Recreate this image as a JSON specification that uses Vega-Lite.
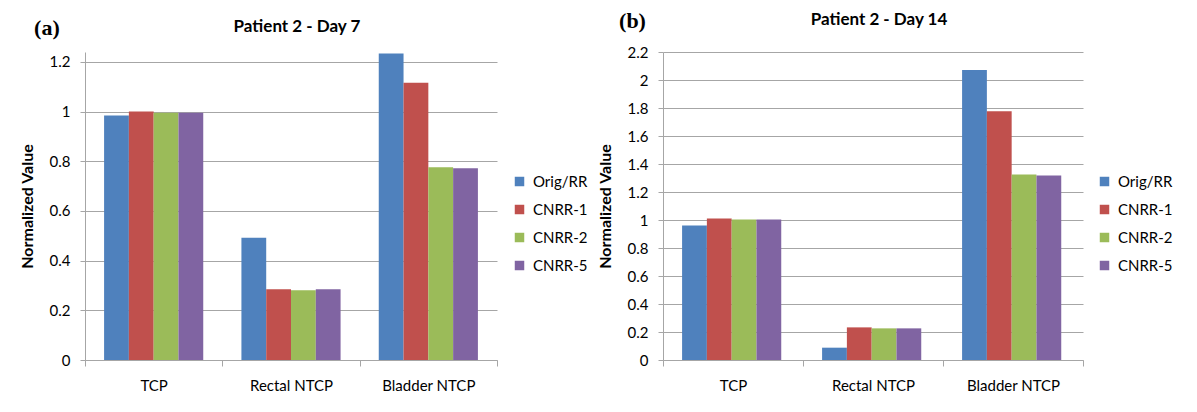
{
  "$schema": "https://vega.github.io/schema/vega-lite/v6.json",
  "padding": {"left": 19, "top": 10, "right": 5, "bottom": 5},
  "background": "white",
  "datasets": {
    "day7": [
      {"metric": "TCP", "method": "Orig/RR", "value": 0.984},
      {"metric": "TCP", "method": "CNRR-1", "value": 1.0},
      {"metric": "TCP", "method": "CNRR-2", "value": 0.995},
      {"metric": "TCP", "method": "CNRR-5", "value": 0.995},
      {"metric": "Rectal NTCP", "method": "Orig/RR", "value": 0.492},
      {"metric": "Rectal NTCP", "method": "CNRR-1", "value": 0.285},
      {"metric": "Rectal NTCP", "method": "CNRR-2", "value": 0.281},
      {"metric": "Rectal NTCP", "method": "CNRR-5", "value": 0.285},
      {"metric": "Bladder NTCP", "method": "Orig/RR", "value": 1.234},
      {"metric": "Bladder NTCP", "method": "CNRR-1", "value": 1.116},
      {"metric": "Bladder NTCP", "method": "CNRR-2", "value": 0.776},
      {"metric": "Bladder NTCP", "method": "CNRR-5", "value": 0.772}
    ],
    "day14": [
      {"metric": "TCP", "method": "Orig/RR", "value": 0.961},
      {"metric": "TCP", "method": "CNRR-1", "value": 1.011},
      {"metric": "TCP", "method": "CNRR-2", "value": 1.004},
      {"metric": "TCP", "method": "CNRR-5", "value": 1.004},
      {"metric": "Rectal NTCP", "method": "Orig/RR", "value": 0.088},
      {"metric": "Rectal NTCP", "method": "CNRR-1", "value": 0.233},
      {"metric": "Rectal NTCP", "method": "CNRR-2", "value": 0.226},
      {"metric": "Rectal NTCP", "method": "CNRR-5", "value": 0.226},
      {"metric": "Bladder NTCP", "method": "Orig/RR", "value": 2.071},
      {"metric": "Bladder NTCP", "method": "CNRR-1", "value": 1.776},
      {"metric": "Bladder NTCP", "method": "CNRR-2", "value": 1.325},
      {"metric": "Bladder NTCP", "method": "CNRR-5", "value": 1.317}
    ]
  },
  "hconcat": [
    {
      "title": {"text": "(a)", "anchor": "start", "frame": "bounds", "font": "Liberation Serif", "fontSize": 22, "fontWeight": "bold", "dx": 15, "dy": 26},
      "vconcat": [
        {
          "title": {"text": "Patient 2 - Day 7", "offset": 16, "dx": 6},
          "data": {"name": "day7"},
          "width": 412,
          "height": 308,
          "mark": {"type": "bar"},
          "encoding": {
            "x": {"field": "metric", "type": "nominal", "sort": ["TCP", "Rectal NTCP", "Bladder NTCP"], "title": null,
                  "scale": {"paddingInner": 0, "paddingOuter": 0}},
            "xOffset": {"field": "method", "type": "nominal", "sort": ["Orig/RR", "CNRR-1", "CNRR-2", "CNRR-5"],
                        "scale": {"paddingInner": 0, "paddingOuter": 0.77}},
            "y": {"field": "value", "type": "quantitative", "title": "Normalized Value",
                  "scale": {"domain": [0, 1.24], "nice": false},
                  "axis": {"values": [0, 0.2, 0.4, 0.6, 0.8, 1, 1.2], "format": "~g"}},
            "color": {"field": "method", "type": "nominal", "sort": ["Orig/RR", "CNRR-1", "CNRR-2", "CNRR-5"],
                      "scale": {"domain": ["Orig/RR", "CNRR-1", "CNRR-2", "CNRR-5"], "range": ["#4F81BD", "#C0504D", "#9BBB59", "#8064A2"]},
                      "legend": {"title": null, "orient": "none", "legendX": 427, "legendY": 122}}
          }
        }
      ]
    },
    {
      "title": {"text": "(b)", "anchor": "start", "frame": "bounds", "font": "Liberation Serif", "fontSize": 22, "fontWeight": "bold", "dx": 22, "dy": 26},
      "vconcat": [
        {
          "title": {"text": "Patient 2 - Day 14", "offset": 16, "dx": 6},
          "data": {"name": "day14"},
          "width": 420,
          "height": 308,
          "mark": {"type": "bar"},
          "encoding": {
            "x": {"field": "metric", "type": "nominal", "sort": ["TCP", "Rectal NTCP", "Bladder NTCP"], "title": null,
                  "scale": {"paddingInner": 0, "paddingOuter": 0}},
            "xOffset": {"field": "method", "type": "nominal", "sort": ["Orig/RR", "CNRR-1", "CNRR-2", "CNRR-5"],
                        "scale": {"paddingInner": 0, "paddingOuter": 0.78}},
            "y": {"field": "value", "type": "quantitative", "title": "Normalized Value",
                  "scale": {"domain": [0, 2.2], "nice": false},
                  "axis": {"values": [0, 0.2, 0.4, 0.6, 0.8, 1, 1.2, 1.4, 1.6, 1.8, 2, 2.2], "format": "~g"}},
            "color": {"field": "method", "type": "nominal", "sort": ["Orig/RR", "CNRR-1", "CNRR-2", "CNRR-5"],
                      "scale": {"domain": ["Orig/RR", "CNRR-1", "CNRR-2", "CNRR-5"], "range": ["#4F81BD", "#C0504D", "#9BBB59", "#8064A2"]},
                      "legend": {"title": null, "orient": "none", "legendX": 434, "legendY": 122}}
          }
        }
      ]
    }
  ],
  "spacing": 9,
  "resolve": {"scale": {"color": "independent"}, "legend": {"color": "independent"}},
  "config": {
    "font": "Lato",
    "view": {"stroke": null},
    "concat": {"spacing": 0},
    "title": {"font": "Lato", "fontSize": 17, "fontWeight": "bold", "color": "black", "anchor": "middle"},
    "axis": {
      "labelFont": "Lato", "labelFontSize": 15, "labelColor": "black",
      "titleFont": "Lato", "titleFontSize": 16, "titleFontWeight": "bold", "titleColor": "black",
      "domainColor": "#a6a6a6", "tickColor": "#a6a6a6", "gridColor": "#a6a6a6", "gridWidth": 1
    },
    "axisX": {"labelAngle": 0, "tickBand": "extent", "tickSize": 6, "labelPadding": 12, "grid": false},
    "axisY": {"tickSize": 5, "labelPadding": 10, "titlePadding": 14, "grid": true},
    "legend": {"labelFont": "Lato", "labelFontSize": 15, "labelColor": "black", "symbolType": "square", "symbolSize": 90,
               "symbolStrokeWidth": 0, "rowPadding": 12, "labelOffset": 6, "padding": 0}
  }
}
